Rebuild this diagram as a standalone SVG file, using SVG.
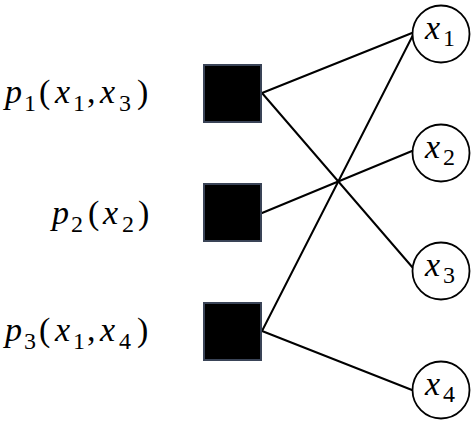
<svg xmlns="http://www.w3.org/2000/svg" width="474" height="424" viewBox="0 0 474 424">
<style>
.fac{fill:#000;stroke:#3a4457;stroke-width:2}
.var{fill:#fff;stroke:#000;stroke-width:1.8}
.edge{stroke:#000;stroke-width:2;fill:none;stroke-linecap:round}
.t{font-family:"Liberation Serif","DejaVu Serif",serif;font-size:34px;fill:#000}
.i{font-style:italic}
.s{font-size:24px}
</style>
<rect width="474" height="424" fill="#fff"/>
<g id="connectors">
<line class="edge" x1="262" y1="93" x2="412" y2="33"/>
<line class="edge" x1="262" y1="93" x2="413" y2="268"/>
<line class="edge" x1="262" y1="213" x2="412" y2="151"/>
<line class="edge" x1="262" y1="331" x2="413" y2="35"/>
<line class="edge" x1="262" y1="331" x2="412" y2="390"/>
</g>
<g id="p1">
<rect class="fac" x="204" y="65" width="57" height="57"/>
<text class="t" y="103"><tspan class="i" x="5">p</tspan><tspan class="s" x="24" dy="8">1</tspan><tspan x="39" dy="-8">(</tspan><tspan class="i" x="55">x</tspan><tspan class="s" x="73" dy="8">1</tspan><tspan x="87" dy="-8">,</tspan><tspan class="i" x="100">x</tspan><tspan class="s" x="119" dy="8">3</tspan><tspan x="137" dy="-8">)</tspan></text>
</g>
<g id="p2">
<rect class="fac" x="204" y="184" width="57" height="57"/>
<text class="t" y="224"><tspan class="i" x="52">p</tspan><tspan class="s" x="71" dy="8">2</tspan><tspan x="88" dy="-8">(</tspan><tspan class="i" x="103">x</tspan><tspan class="s" x="122" dy="8">2</tspan><tspan x="138" dy="-8">)</tspan></text>
</g>
<g id="p3">
<rect class="fac" x="204" y="303" width="57" height="57"/>
<text class="t" y="341"><tspan class="i" x="5">p</tspan><tspan class="s" x="24" dy="8">3</tspan><tspan x="39" dy="-8">(</tspan><tspan class="i" x="55">x</tspan><tspan class="s" x="73" dy="8">1</tspan><tspan x="87" dy="-8">,</tspan><tspan class="i" x="100">x</tspan><tspan class="s" x="119" dy="8">4</tspan><tspan x="137" dy="-8">)</tspan></text>
</g>
<g id="x1">
<circle class="var" cx="441" cy="34" r="28.5"/>
<text class="t" y="39"><tspan class="i" x="425">x</tspan><tspan class="s" x="443" dy="7">1</tspan></text>
</g>
<g id="x2">
<circle class="var" cx="441" cy="153" r="28.5"/>
<text class="t" y="158"><tspan class="i" x="425">x</tspan><tspan class="s" x="443" dy="7">2</tspan></text>
</g>
<g id="x3">
<circle class="var" cx="441" cy="271" r="28.5"/>
<text class="t" y="276"><tspan class="i" x="425">x</tspan><tspan class="s" x="443" dy="7">3</tspan></text>
</g>
<g id="x4">
<circle class="var" cx="441" cy="390" r="28.5"/>
<text class="t" y="395"><tspan class="i" x="425">x</tspan><tspan class="s" x="443" dy="7">4</tspan></text>
</g>
</svg>
